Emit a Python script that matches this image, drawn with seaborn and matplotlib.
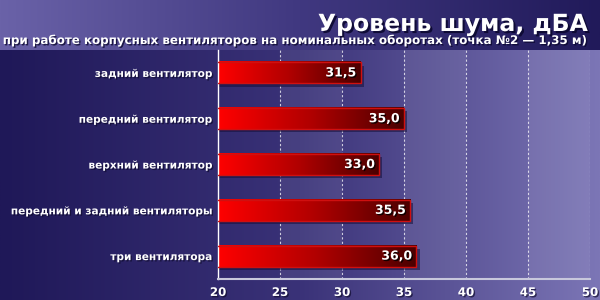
import numpy as np
import pandas as pd
import matplotlib
matplotlib.use("Agg")
import matplotlib.pyplot as plt
import matplotlib.patheffects as pe
from matplotlib.colors import LinearSegmentedColormap
from matplotlib.patches import Rectangle
import seaborn as sns

categories = ["задний вентилятор", "передний вентилятор", "верхний вентилятор",
              "передний и задний вентиляторы", "три вентилятора"]
values = [31.5, 35.0, 33.0, 35.5, 36.0]
value_labels = ["31,5", "35,0", "33,0", "35,5", "36,0"]
xticks = [20, 25, 30, 35, 40, 45, 50]
title = "Уровень шума, дБА"
subtitle = "при работе корпусных вентиляторов на номинальных оборотах (точка №2 — 1,35 м)"

sns.set_theme(style="white")
plt.rcParams['font.family'] = ['DejaVu Sans']

fig = plt.figure(figsize=(6, 3), dpi=100)

# background
bg = fig.add_axes([0, 0, 1, 1], zorder=-10)
bg.set_xlim(0, 600); bg.set_ylim(300, 0); bg.axis('off')
body_cmap = LinearSegmentedColormap.from_list("body", ["#1f1858", "#3a3278", "#7c76b6"])
head_cmap = LinearSegmentedColormap.from_list("head", ["#6a62a8", "#403880", "#211a5a"])
grad = np.linspace(0, 1, 256).reshape(1, -1)
bg.imshow(grad, cmap=body_cmap, extent=[0, 600, 300, 50], aspect='auto')
bg.imshow(grad, cmap=head_cmap, extent=[0, 600, 50, 0], aspect='auto')

df = pd.DataFrame({"cat": categories, "val": values})
ax = fig.add_axes([218/600, 1 - 279/300, 372/600, 229/300])
ax.patch.set_alpha(0)
sns.barplot(data=df, x="val", y="cat", orient="h", width=0.46, ax=ax,
            color="#ff0000", edgecolor="#d01010", linewidth=1.0, zorder=3)
XMIN, XMAX = xticks[0], xticks[-1]
ax.set_xlim(XMIN, XMAX)

# alternating bands
for a in (25, 35, 45):
    ax.axvspan(a, a + 5, color="white", alpha=0.07, zorder=0, lw=0)

bar_cmap = LinearSegmentedColormap.from_list("bar", ["#ff0000", "#b00000", "#4a0000"])
for p, lab in zip(ax.patches, value_labels):
    x0, y0 = p.get_x(), p.get_y()
    w, h = p.get_width(), p.get_height()
    x1 = x0 + w
    # shadow
    ax.add_patch(Rectangle((XMIN, y0 + 0.07), x1 - XMIN + 0.25, h, color="#140f3a",
                           alpha=0.55, zorder=2, lw=0))
    p.set_facecolor("none")
    ax.imshow(grad, cmap=bar_cmap, extent=[XMIN, x1, y0 + h, y0],
              aspect='auto', zorder=2.5)
    ax.text(x1 - 0.35, y0 + h / 2, lab, ha="right", va="center",
            color="white", fontsize=9, fontweight="bold", zorder=5,
            path_effects=[pe.withSimplePatchShadow(offset=(1, -1), shadow_rgbFace="black", alpha=0.8)])
ax.set_ylim(4.5, -0.5)
ax.set_xlim(XMIN, XMAX)

ax.set_xticks(xticks)
ax.set_xticks(np.arange(20, 51, 1), minor=True)
ax.set_xticklabels([str(t) for t in xticks], color="white", fontsize=8.5, fontweight="bold")
ax.tick_params(axis="x", which="major", direction="in", length=4, color="#c8c8dc", width=1, pad=5)
ax.tick_params(axis="x", which="minor", direction="in", length=2, color="#c8c8dc", width=1)
ax.tick_params(axis="y", length=0, pad=4)
ax.set_yticks(range(len(categories)))
ax.set_yticklabels(categories, color="white", fontsize=7.6, fontweight="bold")
for t in ax.get_xticklabels() + ax.get_yticklabels():
    t.set_path_effects([pe.withSimplePatchShadow(offset=(1, -1), shadow_rgbFace="#100c30", alpha=0.7)])
ax.set_xlabel(""); ax.set_ylabel("")
ax.grid(False)
for x in xticks[1:]:
    ax.axvline(x, color="white", alpha=0.75, lw=0.8, ls=(0, (2, 2)), zorder=1)

for s in ["top", "right"]:
    ax.spines[s].set_visible(False)
ax.spines["left"].set_color("white"); ax.spines["left"].set_linewidth(1)
ax.spines["bottom"].set_color("#c8c8dc"); ax.spines["bottom"].set_linewidth(1.5)

fig.text(588/600, 1 - 31/300, title, ha="right", va="baseline", color="white",
         fontsize=17, fontweight="bold",
         path_effects=[pe.withSimplePatchShadow(offset=(1.5, -1.5), shadow_rgbFace="#0c0830", alpha=0.9)])
fig.text(588/600, 1 - 44/300, subtitle, ha="right", va="baseline", color="white",
         fontsize=8.55, fontweight="bold",
         path_effects=[pe.withSimplePatchShadow(offset=(1, -1), shadow_rgbFace="#0c0830", alpha=0.8)])

fig.savefig("out.png", dpi=100)
